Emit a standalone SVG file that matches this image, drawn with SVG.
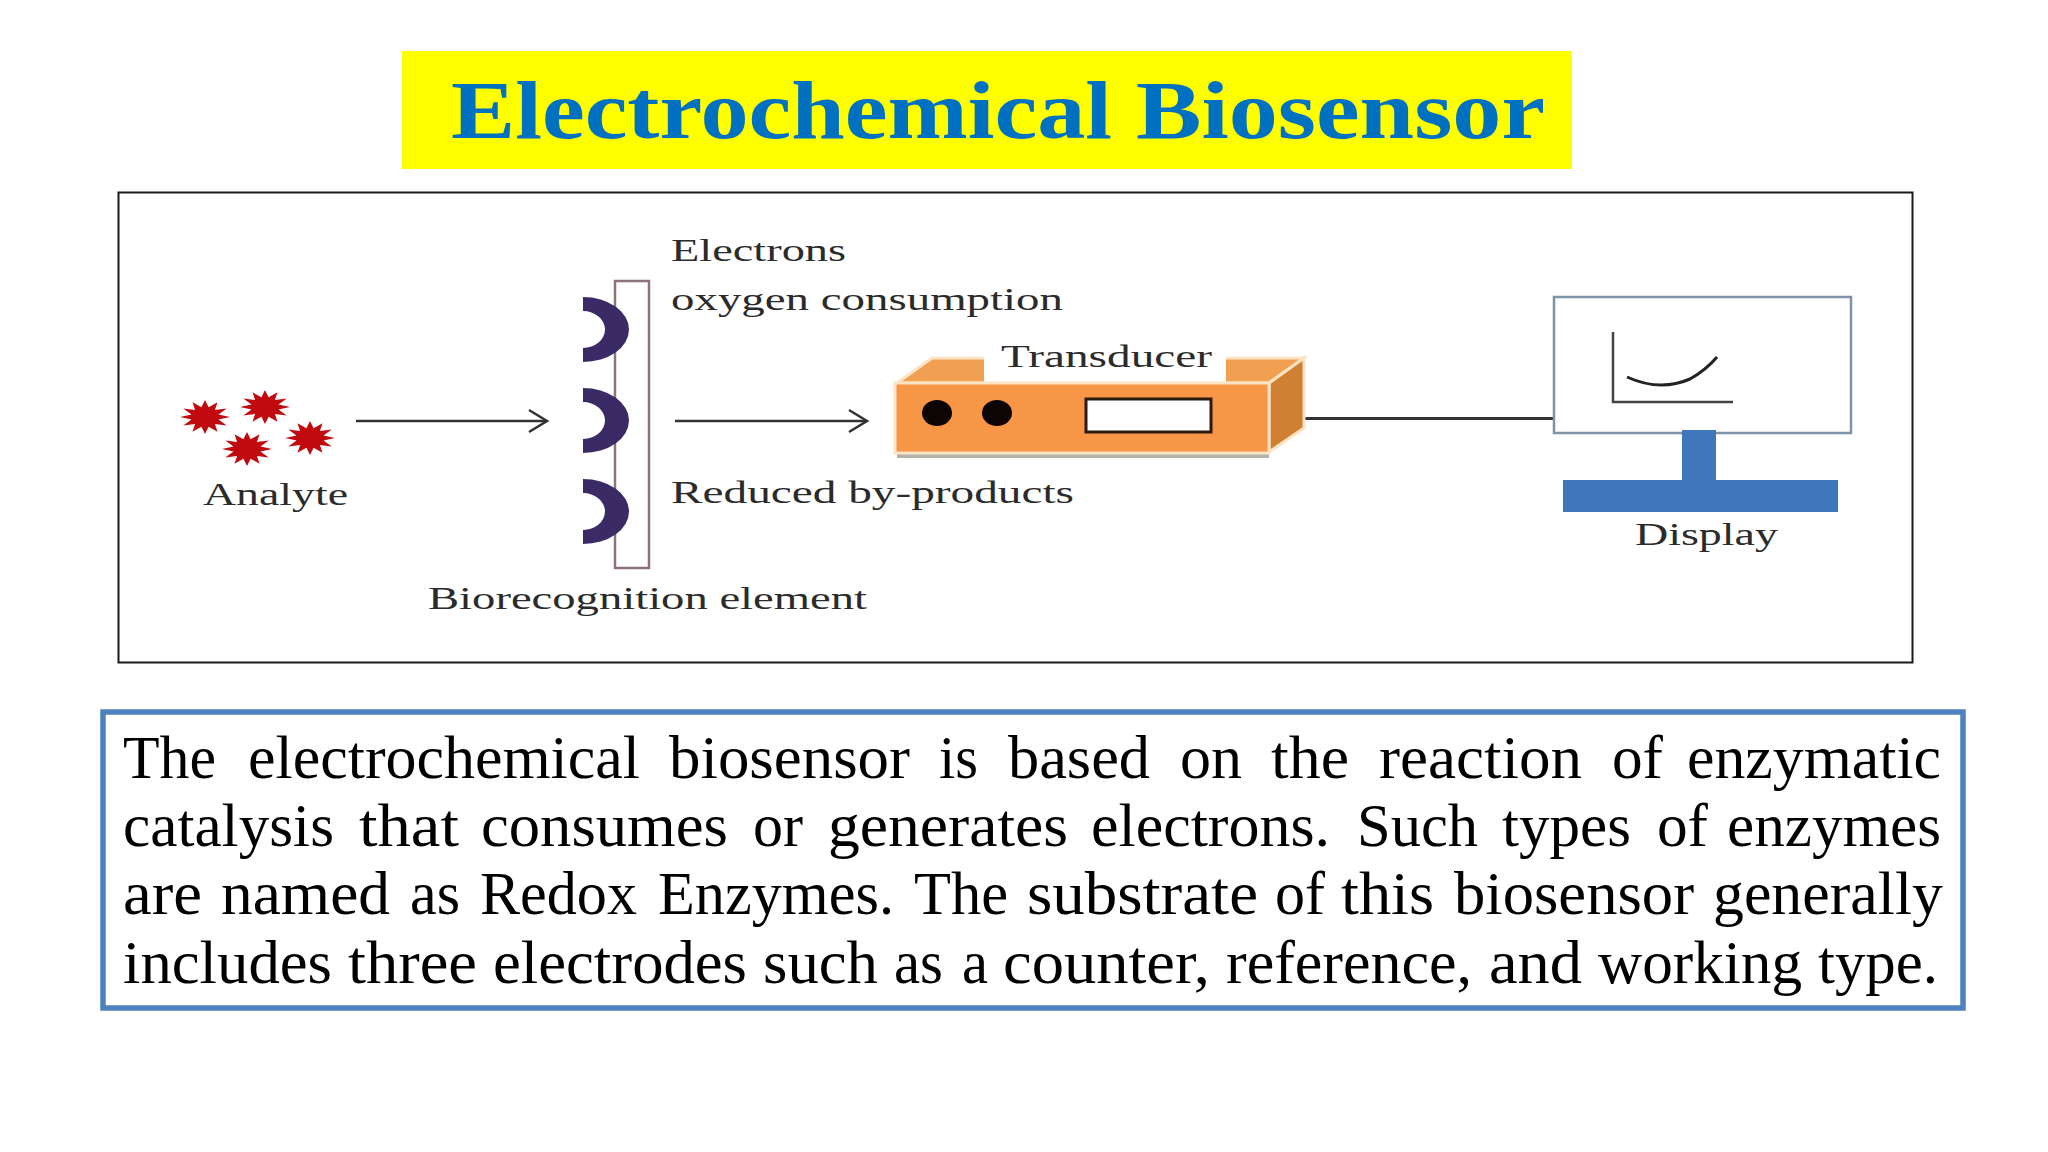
<svg xmlns="http://www.w3.org/2000/svg" width="2048" height="1152" viewBox="0 0 2048 1152">
<style>
.lab{font-family:"Liberation Serif",serif;font-size:32px;fill:#2b2b2b}
.body{font-family:"Liberation Serif",serif;font-size:62px;fill:#000}
.title{font-family:"Liberation Serif",serif;font-size:82px;font-weight:bold;fill:#0070c0}
.cres{fill:#3a2a66}
.ln{fill:none;stroke:#333;stroke-width:2.5}
</style>
<defs>
<polygon id="star" fill="#c00a0f" points="25,0 13.500,2.600 21.700,8.500 9.900,7.100 12.500,14.700 3.600,9.700 0,17 -3.600,9.700 -12.500,14.700 -9.900,7.100 -21.700,8.500 -13.500,2.600 -25,0 -13.500,-2.600 -21.700,-8.500 -9.900,-7.100 -12.500,-14.700 -3.600,-9.700 0,-17 3.600,-9.700 12.500,-14.700 9.900,-7.100 21.700,-8.500 13.500,-2.600"/>
<path id="cres" d="M0,0 A46,32.500 0 0 1 0,65 L0,51 A22,18.500 0 0 0 0,14 Z"/>
<marker id="arr" markerUnits="userSpaceOnUse" markerWidth="24" markerHeight="26" refX="20" refY="13" orient="auto"><path d="M2,2 L20,13 L2,24" fill="none" stroke="#333" stroke-width="2.500"/></marker>
</defs>
<rect width="2048" height="1152" fill="#fff"/>
<g id="title"><rect x="402" y="51" width="1170" height="118" fill="#ffff00"/><text class="title" y="138"><tspan x="451" textLength="661" lengthAdjust="spacingAndGlyphs">Electrochemical</tspan> <tspan x="1136" textLength="409" lengthAdjust="spacingAndGlyphs">Biosensor</tspan></text></g>
<rect id="frame" x="118.500" y="192.500" width="1794" height="470" fill="#fff" stroke="#1a1a1a" stroke-width="2"/>
<g id="connectors">
<line class="ln" x1="356" y1="421" x2="547" y2="421" marker-end="url(#arr)"/>
<line class="ln" x1="675" y1="421" x2="867" y2="421" marker-end="url(#arr)"/>
<line class="ln" x1="1305" y1="418.500" x2="1556" y2="418.500" style="stroke-width:3"/>
</g>
<g id="analyte"><use href="#star" x="205" y="417"/><use href="#star" x="265" y="407"/><use href="#star" x="310" y="438"/><use href="#star" x="247" y="449"/><text class="lab" x="203" y="505" textLength="145" lengthAdjust="spacingAndGlyphs">Analyte</text></g>
<g id="biorecognition">
<rect x="615" y="281" width="34" height="287" fill="#fff" stroke="#8c7377" stroke-width="2.500"/>
<use class="cres" href="#cres" x="583" y="297"/>
<use class="cres" href="#cres" x="583" y="388"/>
<use class="cres" href="#cres" x="583" y="479"/>
<text class="lab" x="428" y="609" textLength="439" lengthAdjust="spacingAndGlyphs">Biorecognition element</text>
</g>
<g id="outputs">
<text class="lab" x="671" y="261" textLength="175" lengthAdjust="spacingAndGlyphs">Electrons</text>
<text class="lab" x="671" y="310" textLength="392" lengthAdjust="spacingAndGlyphs">oxygen consumption</text>
<text class="lab" x="671" y="503" textLength="403" lengthAdjust="spacingAndGlyphs">Reduced by-products</text>
</g>
<g id="transducer">
<rect x="897" y="453" width="372" height="5" fill="#b5b0aa"/>
<polygon points="897,383 932,358 1304,358 1269,383" fill="#f0a050" stroke="#fbe3c4" stroke-width="3"/>
<rect x="984" y="350" width="242" height="33" fill="#fff"/>
<polygon points="1269,383 1304,358 1304,428 1269,452" fill="#d08032" stroke="#fbe3c4" stroke-width="3"/>
<rect x="895" y="383" width="374" height="70" fill="#f79646" stroke="#fbe3c4" stroke-width="3"/>
<ellipse cx="937" cy="413" rx="15" ry="13" fill="#0d0505"/><ellipse cx="997" cy="413" rx="15" ry="13" fill="#0d0505"/>
<rect x="1086" y="399" width="125" height="33" fill="#fff" stroke="#2b1a0d" stroke-width="3"/>
<text class="lab" x="1001" y="367" textLength="211" lengthAdjust="spacingAndGlyphs">Transducer</text>
</g>
<g id="display">
<rect x="1554" y="297" width="297" height="136" fill="#fff" stroke="#7f93a8" stroke-width="2.500"/>
<rect x="1682" y="430" width="34" height="50" fill="#3f76bc"/>
<rect x="1563" y="480" width="275" height="32" fill="#3f76bc"/>
<path d="M1613,332 V402 H1733" fill="none" stroke="#444" stroke-width="2.500"/>
<path d="M1627,377 Q1660,392 1690,379 Q1706,370 1717,357" fill="none" stroke="#222" stroke-width="3"/>
<text class="lab" x="1635" y="545" textLength="143" lengthAdjust="spacingAndGlyphs">Display</text>
</g>
<g id="description">
<rect x="103" y="712" width="1860" height="296" fill="#fff" stroke="#4f81bd" stroke-width="5.500"/>
<text class="body" y="778"><tspan x="123" textLength="93" lengthAdjust="spacingAndGlyphs">The</tspan> <tspan x="248" textLength="392" lengthAdjust="spacingAndGlyphs">electrochemical</tspan> <tspan x="669" textLength="241" lengthAdjust="spacingAndGlyphs">biosensor</tspan> <tspan x="939" textLength="39" lengthAdjust="spacingAndGlyphs">is</tspan> <tspan x="1008" textLength="142" lengthAdjust="spacingAndGlyphs">based</tspan> <tspan x="1180" textLength="62" lengthAdjust="spacingAndGlyphs">on</tspan> <tspan x="1271" textLength="78" lengthAdjust="spacingAndGlyphs">the</tspan> <tspan x="1379" textLength="203" lengthAdjust="spacingAndGlyphs">reaction</tspan> <tspan x="1612" textLength="51" lengthAdjust="spacingAndGlyphs">of</tspan> <tspan x="1687" textLength="254" lengthAdjust="spacingAndGlyphs">enzymatic</tspan></text>
<text class="body" y="846"><tspan x="123" textLength="211" lengthAdjust="spacingAndGlyphs">catalysis</tspan> <tspan x="359" textLength="100" lengthAdjust="spacingAndGlyphs">that</tspan> <tspan x="481" textLength="247" lengthAdjust="spacingAndGlyphs">consumes</tspan> <tspan x="753" textLength="50" lengthAdjust="spacingAndGlyphs">or</tspan> <tspan x="828" textLength="240" lengthAdjust="spacingAndGlyphs">generates</tspan> <tspan x="1091" textLength="239" lengthAdjust="spacingAndGlyphs">electrons.</tspan> <tspan x="1357" textLength="121" lengthAdjust="spacingAndGlyphs">Such</tspan> <tspan x="1502" textLength="129" lengthAdjust="spacingAndGlyphs">types</tspan> <tspan x="1657" textLength="51" lengthAdjust="spacingAndGlyphs">of</tspan> <tspan x="1727" textLength="214" lengthAdjust="spacingAndGlyphs">enzymes</tspan></text>
<text class="body" y="914"><tspan x="123" textLength="79" lengthAdjust="spacingAndGlyphs">are</tspan> <tspan x="221" textLength="169" lengthAdjust="spacingAndGlyphs">named</tspan> <tspan x="410" textLength="50" lengthAdjust="spacingAndGlyphs">as</tspan> <tspan x="480" textLength="157" lengthAdjust="spacingAndGlyphs">Redox</tspan> <tspan x="658" textLength="236" lengthAdjust="spacingAndGlyphs">Enzymes.</tspan> <tspan x="914" textLength="94" lengthAdjust="spacingAndGlyphs">The</tspan> <tspan x="1027" textLength="231" lengthAdjust="spacingAndGlyphs">substrate</tspan> <tspan x="1275" textLength="50" lengthAdjust="spacingAndGlyphs">of</tspan> <tspan x="1341" textLength="93" lengthAdjust="spacingAndGlyphs">this</tspan> <tspan x="1454" textLength="240" lengthAdjust="spacingAndGlyphs">biosensor</tspan> <tspan x="1713" textLength="230" lengthAdjust="spacingAndGlyphs">generally</tspan></text>
<text class="body" y="983"><tspan x="123" textLength="209" lengthAdjust="spacingAndGlyphs">includes</tspan> <tspan x="348" textLength="129" lengthAdjust="spacingAndGlyphs">three</tspan> <tspan x="493" textLength="254" lengthAdjust="spacingAndGlyphs">electrodes</tspan> <tspan x="763" textLength="115" lengthAdjust="spacingAndGlyphs">such</tspan> <tspan x="894" textLength="49" lengthAdjust="spacingAndGlyphs">as</tspan> <tspan x="962" textLength="26" lengthAdjust="spacingAndGlyphs">a</tspan> <tspan x="1003" textLength="207" lengthAdjust="spacingAndGlyphs">counter,</tspan> <tspan x="1226" textLength="246" lengthAdjust="spacingAndGlyphs">reference,</tspan> <tspan x="1489" textLength="93" lengthAdjust="spacingAndGlyphs">and</tspan> <tspan x="1598" textLength="204" lengthAdjust="spacingAndGlyphs">working</tspan> <tspan x="1818" textLength="120" lengthAdjust="spacingAndGlyphs">type.</tspan></text>
</g>
</svg>
